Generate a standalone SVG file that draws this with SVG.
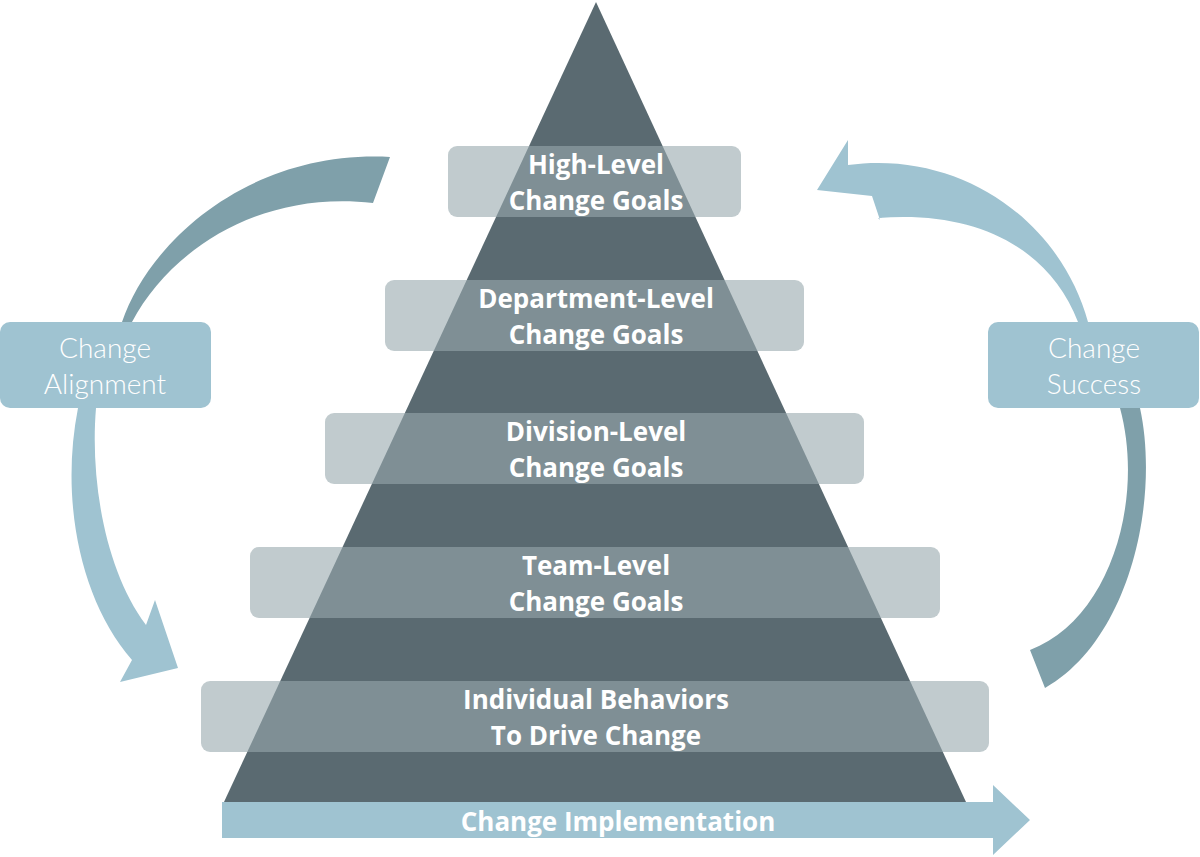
<svg xmlns="http://www.w3.org/2000/svg" width="1200" height="857" viewBox="0 0 1200 857">
<style>
.band{fill:#98a8ad;fill-opacity:0.6}
.bt{font-family:"Open Sans","Liberation Sans",sans-serif;font-weight:700;font-size:26px;fill:#fff;text-anchor:middle}
.side{fill:#9fc3d1}
.st{font-family:Lato,"Liberation Sans",sans-serif;font-weight:300;font-size:28px;fill:#fff;text-anchor:middle}
.dark{fill:#7fa0aa}
.light{fill:#9fc3d1}
</style>
<rect width="1200" height="857" fill="#fff"/>
<g id="pyramid"><polygon points="596,2 224,802 966,802" fill="#5a6a71"/></g>
<g id="connectors">
<path class="dark" d="M122,322 C150,240 250,150 390,157 L373,203 C260,190 170,250 132,322 Z"/>
<path class="light" d="M78,408 C60,500 80,600 132,660 L120,682 L178,668 L155,600 L146,625 C105,570 90,480 96,408 Z"/>
<path class="light" d="M1078,322 C1050,250 980,210 878,218 L880,220 L872,196 L817,190 L848,140 L848,165 C960,150 1060,220 1088,322 Z"/>
<path class="dark" d="M1120,408 C1145,500 1110,620 1030,650 L1045,688 C1130,640 1160,500 1140,408 Z"/>
<polygon class="light" points="222,802 993,802 993,785 1030,820 993,855 993,838 222,838"/>
<text class="bt" x="618" y="831" font-size="28">Change Implementation</text>
</g>
<g id="n1"><rect class="band" x="448" y="146" width="293" height="71" rx="9"/><text class="bt" x="596" y="174">High-Level</text><text class="bt" x="596" y="210">Change Goals</text></g>
<g id="n2"><rect class="band" x="385" y="280" width="419" height="71" rx="9"/><text class="bt" x="596" y="308">Department-Level</text><text class="bt" x="596" y="344">Change Goals</text></g>
<g id="n3"><rect class="band" x="325" y="413" width="539" height="71" rx="9"/><text class="bt" x="596" y="441">Division-Level</text><text class="bt" x="596" y="477">Change Goals</text></g>
<g id="n4"><rect class="band" x="250" y="547" width="690" height="71" rx="9"/><text class="bt" x="596" y="575">Team-Level</text><text class="bt" x="596" y="611">Change Goals</text></g>
<g id="n5"><rect class="band" x="201" y="681" width="788" height="71" rx="9"/><text class="bt" x="596" y="709">Individual Behaviors</text><text class="bt" x="596" y="745">To Drive Change</text></g>
<g id="alignment"><rect class="side" x="0" y="322" width="211" height="86" rx="10"/><text class="st" x="105" y="358">Change</text><text class="st" x="105" y="394">Alignment</text></g>
<g id="success"><rect class="side" x="988" y="322" width="211" height="86" rx="10"/><text class="st" x="1094" y="358">Change</text><text class="st" x="1094" y="394">Success</text></g>
</svg>
